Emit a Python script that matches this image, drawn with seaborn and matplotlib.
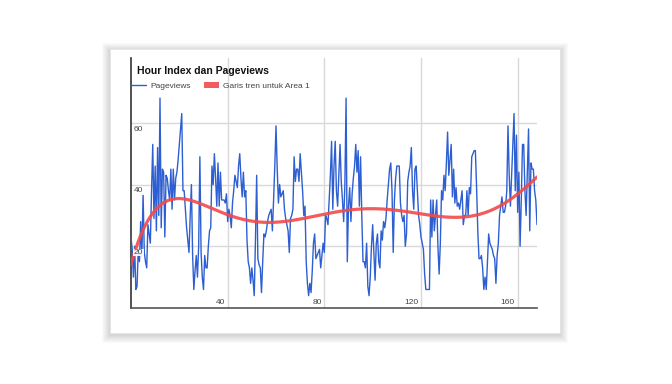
import matplotlib

matplotlib.use("Agg")

import numpy as np
import pandas as pd
import matplotlib.pyplot as plt
import seaborn as sns
from matplotlib.lines import Line2D
from matplotlib.patches import Patch, Rectangle

# Pageviews, two readings per hour index step
pageviews = [
    23, 19, 10, 20, 6, 7, 19, 15, 28, 17,
    37, 18, 15, 13, 27, 24, 21, 38, 53, 29,
    46, 25, 52, 30, 68, 26, 45, 44, 23, 43,
    42, 38, 35, 45, 32, 45, 35, 42, 44, 48,
    53, 58, 63, 38, 38, 32, 26, 22, 18, 30,
    40, 17, 6, 12, 17, 10, 20, 49, 18, 10,
    6, 17, 13, 13, 20, 25, 26, 46, 40, 50,
    42, 33, 47, 33, 44, 35, 35, 35, 34, 37,
    28, 32, 30, 26, 34, 38, 43, 41, 39, 46,
    50, 42, 36, 44, 36, 38, 22, 15, 13, 8,
    13, 9, 4, 22, 43, 16, 14, 13, 5, 15,
    24, 23, 25, 28, 30, 31, 32, 25, 35, 46,
    59, 45, 34, 40, 36, 37, 38, 32, 29, 27,
    25, 18, 29, 30, 32, 49, 41, 45, 45, 41,
    50, 44, 38, 30, 33, 15, 8, 4, 8, 5,
    12, 21, 24, 16, 17, 18, 19, 13, 17, 21,
    18, 30, 29, 27, 35, 43, 54, 32, 46, 54,
    38, 33, 43, 53, 41, 35, 28, 40, 68, 15,
    33, 39, 28, 37, 42, 46, 53, 44, 51, 33,
    49, 30, 15, 15, 13, 21, 7, 4, 10, 20,
    27, 18, 9, 21, 24, 15, 13, 25, 22, 28,
    26, 29, 35, 40, 45, 47, 38, 18, 35, 42,
    46, 46, 46, 34, 30, 28, 30, 20, 24, 41,
    44, 46, 52, 38, 32, 45, 46, 38, 30, 27,
    23, 21, 19, 11, 6, 6, 6, 6, 35, 23,
    35, 25, 30, 35, 20, 11, 21, 38, 35, 43,
    38, 47, 57, 43, 48, 53, 36, 45, 34, 39,
    33, 34, 32, 35, 38, 27, 30, 30, 38, 30,
    39, 37, 49, 50, 51, 51, 39, 25, 16, 16,
    17, 13, 6, 10, 6, 15, 24, 21, 20, 19,
    17, 16, 8, 17, 21, 30, 33, 36, 31, 31,
    33, 38, 59, 43, 33, 43, 53, 63, 38, 56,
    31, 44, 20, 35, 53, 53, 38, 30, 44, 58,
    25, 47, 45, 45, 38, 35, 27,
]
hour_index = [i / 2 for i in range(len(pageviews))]
x_ticks = [40, 80, 120, 160]
y_ticks = [20, 40, 60]

TITLE = "Hour Index dan Pageviews"
SERIES_LABEL = "Pageviews"
TREND_LABEL = "Garis tren untuk Area 1"

BLUE = "#2d5fd2"
RED = "#f24a4a"
TEXT = "#444444"

df = pd.DataFrame({"hour": hour_index, "views": pageviews})
# polynomial trend line, like the chart tool's trendline option
poly = np.polynomial.Polynomial.fit(df["hour"], df["views"], 6)
df["trend"] = poly(df["hour"])

sns.set_style("white")
plt.rcParams["font.family"] = ["Liberation Sans", "DejaVu Sans"]

fig = plt.figure(figsize=(6.72, 3.84), dpi=100)
fig.patch.set_facecolor("white")

# card with soft shadow
W, H = 672, 384
cx0, cy0, cx1, cy1 = 110, 49, 560, 333
for k in range(8, 0, -1):
    fig.patches.append(Rectangle(
        ((cx0 - k) / W, 1 - (cy1 + k + 2) / H), (cx1 - cx0 + 2 * k) / W, (cy1 - cy0 + 2 * k) / H,
        transform=fig.transFigure, facecolor="#000000", alpha=0.02, edgecolor="none", zorder=0))
fig.patches.append(Rectangle(
    (cx0 / W, 1 - cy1 / H), (cx1 - cx0) / W, (cy1 - cy0) / H,
    transform=fig.transFigure, facecolor="white", edgecolor="#e2e2e2", linewidth=0.5, zorder=1))

ax = fig.add_axes([131 / W, 1 - 308 / H, (537 - 131) / W, (308 - 58) / H])
ax.set_facecolor("none")
ax.set_zorder(2)

sns.lineplot(data=df, x="hour", y="views", color=BLUE, linewidth=1.0, ax=ax, zorder=3)
sns.lineplot(data=df, x="hour", y="trend", color=RED, linewidth=2.3, alpha=0.9, ax=ax, zorder=4)

ax.set_xlim(0, 168)
ax.set_ylim(0, 81)
ax.set_xticks(x_ticks)
ax.set_yticks(y_ticks)
ax.set_xticklabels([])
ax.set_yticklabels([])
ax.tick_params(length=0)
ax.grid(True, color="#d9d9d9", linewidth=1.0)
ax.set_axisbelow(True)
ax.set_xlabel("")
ax.set_ylabel("")

for side in ("top", "right"):
    ax.spines[side].set_visible(False)
ax.spines["left"].set_color("#333333")
ax.spines["left"].set_linewidth(1.2)
ax.spines["bottom"].set_color("#555555")
ax.spines["bottom"].set_linewidth(1.2)

# tick labels drawn inside the plot area
for v in y_ticks:
    ax.annotate(str(v), xy=(0, v), xycoords=("axes fraction", "data"), xytext=(2, -2),
                textcoords="offset points", ha="left", va="top", fontsize=6, color=TEXT, zorder=6,
                bbox=dict(facecolor="white", edgecolor="none", pad=0.3, alpha=0.9))
for v in x_ticks:
    ax.annotate(str(v), xy=(v, 0), xycoords=("data", "axes fraction"), xytext=(-2, 1.5),
                textcoords="offset points", ha="right", va="bottom", fontsize=6, color=TEXT, zorder=6)

fig.text(137 / W, 1 - 71 / H, TITLE, fontsize=7.5, fontweight="bold", color="#111111",
         va="center", ha="left", zorder=5)

handles = [
    Line2D([0], [0], color=BLUE, linewidth=1.0),
    Patch(facecolor=RED, edgecolor="none", alpha=0.9),
]
fig.legend(handles, [SERIES_LABEL, TREND_LABEL], loc="center left",
           bbox_to_anchor=(131 / W, 1 - 86 / H), ncol=2, frameon=False, fontsize=6,
           handlelength=1.8, handleheight=0.8, handletextpad=0.5, columnspacing=1.6,
           borderpad=0, borderaxespad=0, labelcolor=TEXT)

fig.savefig("out.png", dpi=100, facecolor="white")
